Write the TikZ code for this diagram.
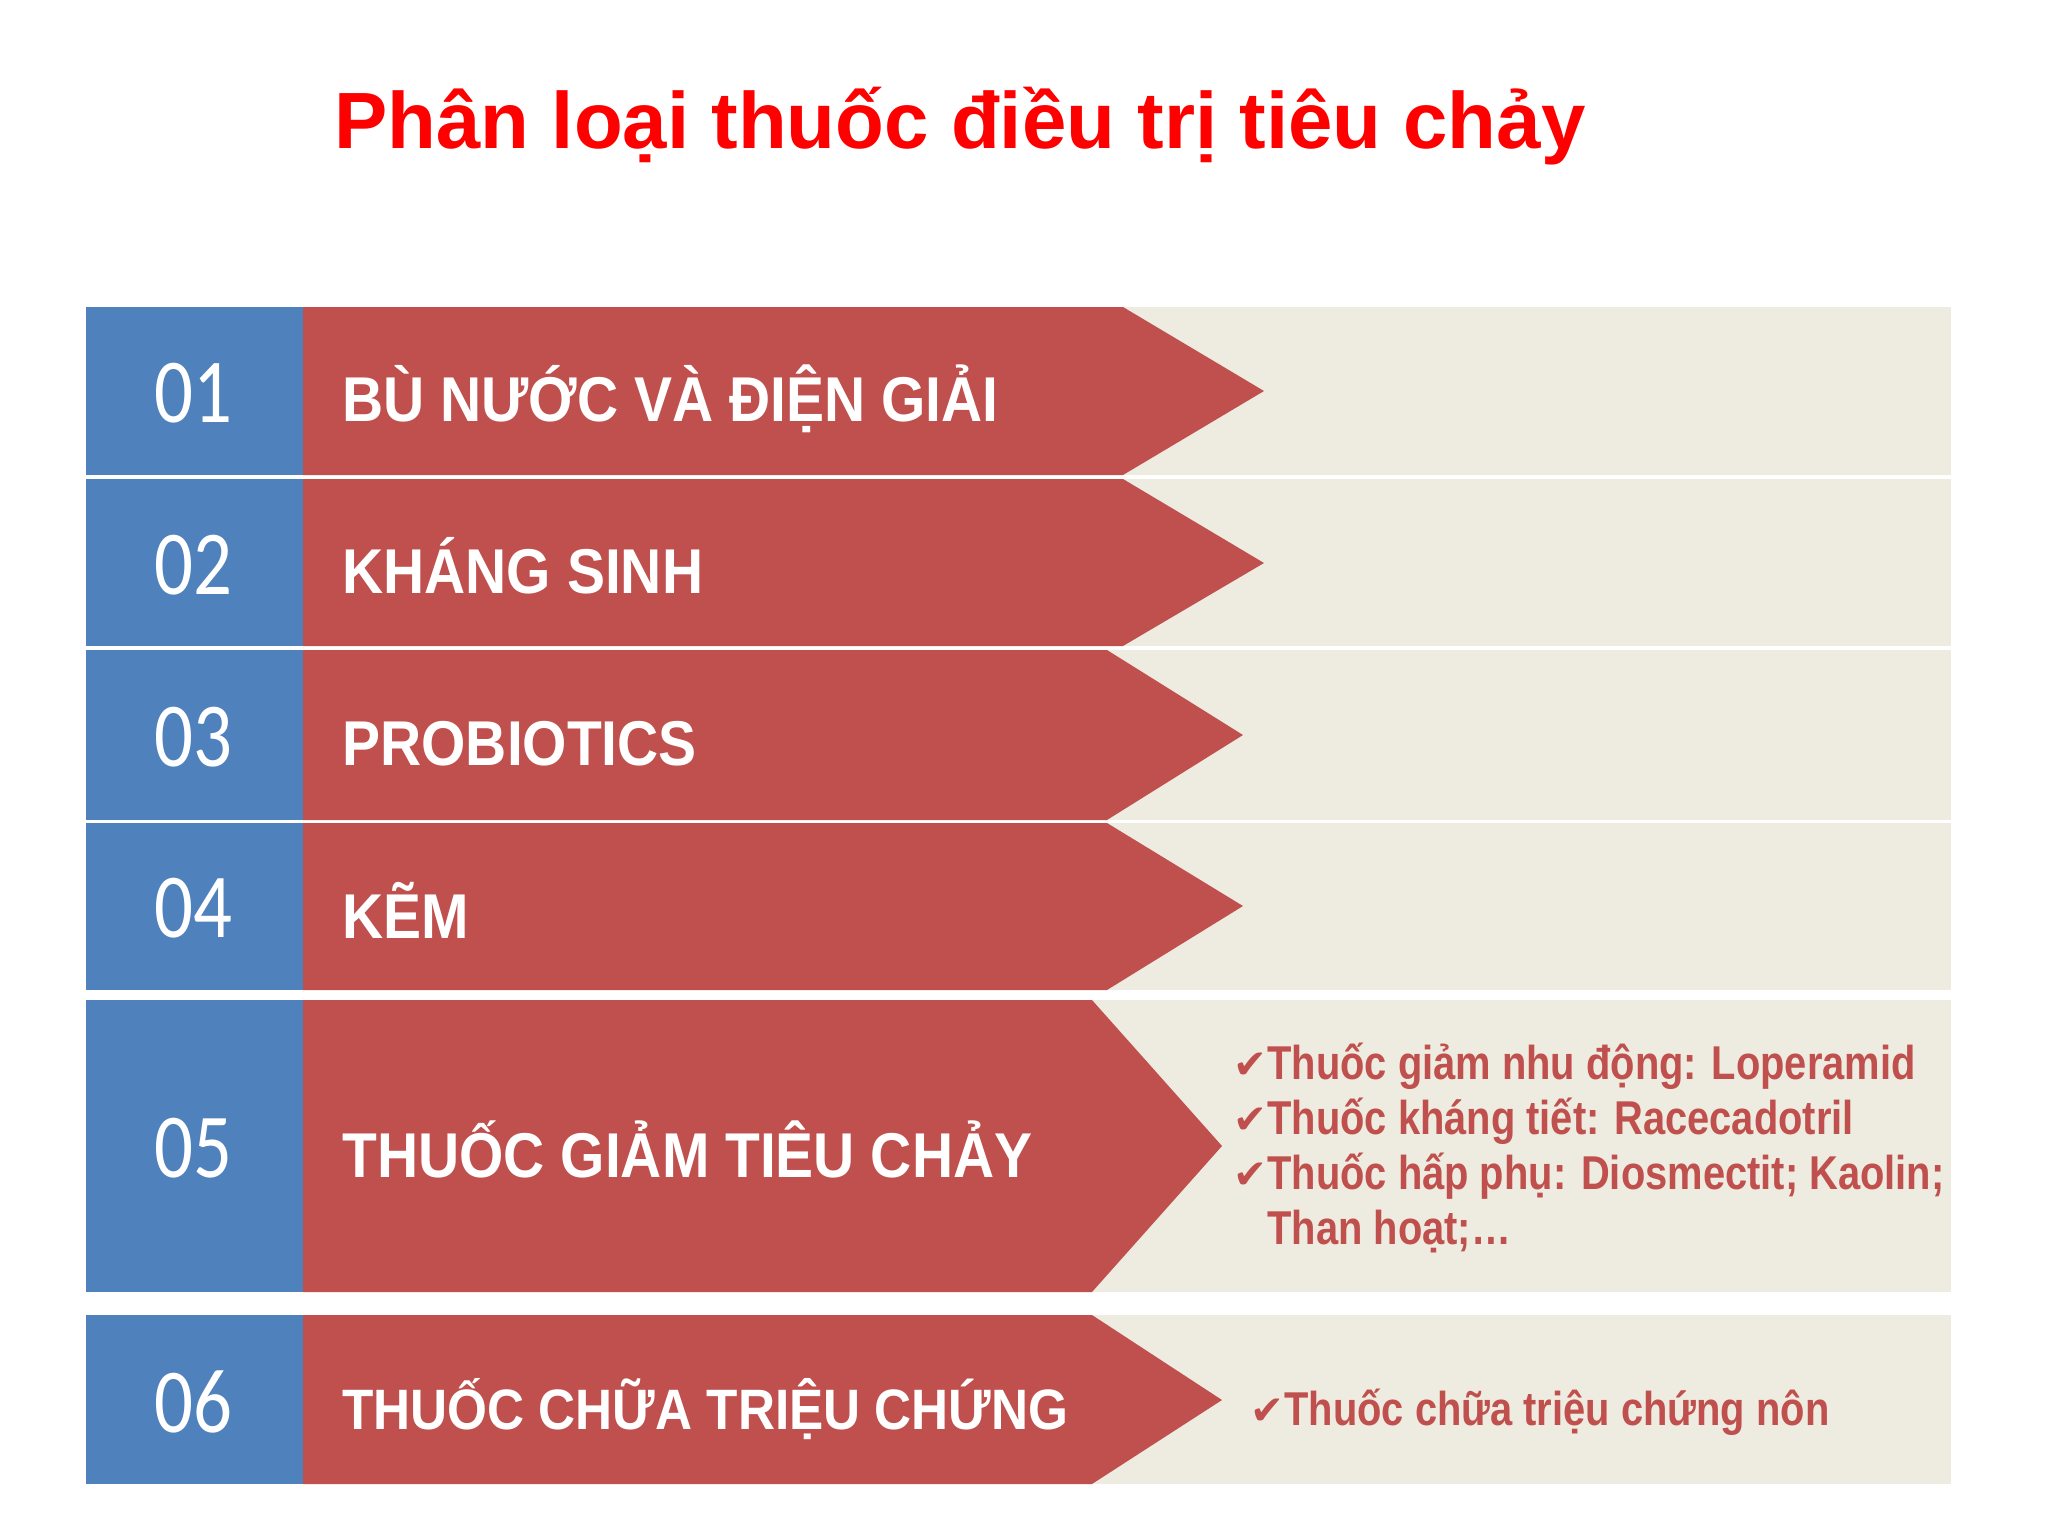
\documentclass[tikz,border=0pt]{standalone}
\usepackage{fontspec}
\setmainfont{Liberation Sans}
\newfontfamily\labelfont{Liberation Sans}[FakeStretch=0.9]
\newfontfamily\notefont{Liberation Sans}[FakeStretch=0.84]
\newfontfamily\numfont{Carlito}[FakeStretch=0.84]
\newfontfamily\chkfont{DejaVu Sans}
\definecolor{rowblue}{HTML}{4F81BD}
\definecolor{rowred}{HTML}{C0504D}
\definecolor{rowbeige}{HTML}{EEECE1}
\newcommand{\chk}{{\chkfont\fontsize{11.5}{12}\selectfont\raisebox{0.3pt}{\char"2714}}}
\tikzset{
  numtext/.style={text=white, font=\numfont\fontsize{26}{30}\selectfont},
  labtext/.style={text=white, anchor=west, font=\labelfont\bfseries\fontsize{18}{21}\selectfont},
  notetext/.style={text=rowred, anchor=west, align=left, font=\notefont\bfseries\fontsize{13.5}{15.6}\selectfont}
}
\begin{document}
\begin{tikzpicture}[x=0.01cm,y=-0.01cm]
\useasboundingbox (0,0) rectangle (2048,1536);

\node[text=red, font=\bfseries\fontsize{22.7}{27}\selectfont] (title) at (960,126) {Phân loại thuốc điều trị tiêu chảy};

% row 1
\fill[rowbeige] (303,307) rectangle (1951,475);
\fill[rowblue] (86,307) rectangle (303,475);
\fill[rowred] (303,307) -- (1123,307) -- (1264,391) -- (1123,475) -- (303,475) -- cycle;
\node[numtext] (num1) at (193,393) {01};
\node[labtext] (lab1) at (330,399) {BÙ NƯỚC VÀ ĐIỆN GIẢI};

% row 2
\fill[rowbeige] (303,479) rectangle (1951,646);
\fill[rowblue] (86,479) rectangle (303,646);
\fill[rowred] (303,479) -- (1123,479) -- (1264,563) -- (1123,646) -- (303,646) -- cycle;
\node[numtext] (num2) at (193,565) {02};
\node[labtext] (lab2) at (330,566) {KHÁNG SINH};

% row 3
\fill[rowbeige] (303,650) rectangle (1951,820);
\fill[rowblue] (86,650) rectangle (303,820);
\fill[rowred] (303,650) -- (1107,650) -- (1243,735) -- (1107,820) -- (303,820) -- cycle;
\node[numtext] (num3) at (193,737) {03};
\node[labtext] (lab3) at (330,744) {PROBIOTICS};

% row 4
\fill[rowbeige] (303,823) rectangle (1951,990);
\fill[rowblue] (86,823) rectangle (303,990);
\fill[rowred] (303,823) -- (1107,823) -- (1243,906) -- (1107,990) -- (303,990) -- cycle;
\node[numtext] (num4) at (193,908) {04};
\node[labtext] (lab4) at (330,910) {KẼM};

% row 5
\fill[rowbeige] (303,1000) rectangle (1951,1292);
\fill[rowblue] (86,1000) rectangle (303,1292);
\fill[rowred] (303,1000) -- (1092,1000) -- (1222,1146) -- (1092,1292) -- (303,1292) -- cycle;
\node[numtext] (num5) at (193,1148) {05};
\node[labtext] (lab5) at (330,1149) {THUỐC GIẢM TIÊU CHẢY};
\node[notetext] (note5) at (1221,1148) {\chk Thuốc giảm nhu động: Loperamid\\
  \chk Thuốc kháng tiết: Racecadotril\\
  \chk Thuốc hấp phụ: Diosmectit; Kaolin;\\
  \phantom{\chk}Than hoạt;…};

% row 6
\fill[rowbeige] (303,1315) rectangle (1951,1484);
\fill[rowblue] (86,1315) rectangle (303,1484);
\fill[rowred] (303,1315) -- (1092,1315) -- (1222,1400) -- (1092,1484) -- (303,1484) -- cycle;
\node[numtext] (num6) at (193,1402) {06};
\node[labtext, font=\labelfont\bfseries\fontsize{16.2}{19}\selectfont] (lab6) at (330,1409) {THUỐC CHỮA TRIỆU CHỨNG};
\node[notetext] (note6) at (1238,1412) {\chk Thuốc chữa triệu chứng nôn};
\end{tikzpicture}
\end{document}
